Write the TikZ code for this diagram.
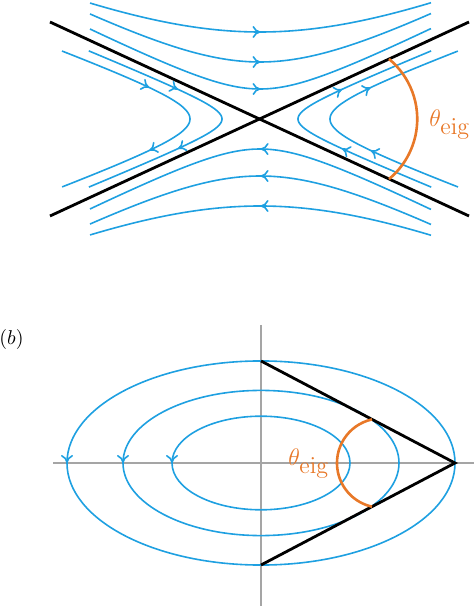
\documentclass[tikz,border=0pt]{standalone}
\usepackage{xcolor}
\usepackage{tikz}
\usetikzlibrary{arrows.meta, decorations.markings}
\definecolor{flowblue}{RGB}{30,160,225}
\definecolor{angorange}{RGB}{232,120,40}
\definecolor{axisgray}{RGB}{165,165,165}

\begin{document}
\begin{tikzpicture}[x=0.5pt, y=0.5pt,
            flow/.style={draw=flowblue, line width=0.8pt},
            eigline/.style={draw=black, line width=1.4pt},
            anglearc/.style={draw=angorange, line width=1.3pt},
            axisline/.style={draw=axisgray, line width=1.2pt},
            lbl/.style={inner sep=0pt, font=\fontsize{13}{15}\selectfont},
            flowarrow/.style={postaction={decorate, decoration={markings,
                mark=at position #1 with {\arrow{Computer Modern Rightarrow[length=4pt, width=6pt, line width=0.8pt]}}}}}]

            \useasboundingbox (0,0) rectangle (474,606);

            % 鞍点
            \begin{scope}[shift={(260,487)}]
                \coordinate (ul) at (-210,97);
                \coordinate (lr) at (209,-97);
                \coordinate (ll) at (-210,-97);
                \coordinate (ur) at (209,97);
                \coordinate (a1) at (129,60);

                % 上下流线
                \foreach \a/\s in {87/0.451, 57/0.519, 30/0.499} {
                    \draw[flow, flowarrow=0.5] plot[domain=-170:171, samples=80, smooth]
                        (\x, {10*sqrt((\a/10)^2+(\s*\x/10)^2)});
                    \draw[flow, flowarrow=0.5] plot[domain=-171:170, samples=80, smooth]
                        ({-(\x)}, {-10*sqrt((\a/10)^2+(\s*\x/10)^2)});
                }

                % 左右流线
                \foreach \vx/\s/\tm in {38/0.408/2.186, 70/0.367/1.70} {
                    \draw[flow, flowarrow=0.32, flowarrow=0.68] plot[variable=\t, domain=-\tm:\tm, samples=61]
                        ({\vx*cosh(\t)}, {\vx*\s*sinh(\t)});
                    \draw[flow, flowarrow=0.32, flowarrow=0.68] plot[variable=\t, domain=-\tm:\tm, samples=61]
                        ({-\vx*cosh(\t)}, {-\vx*\s*sinh(\t)});
                }

                % 特征方向
                \draw[eigline] (ul) -- (lr);
                \draw[eigline] (ll) -- (ur);

                % 角度
                \draw[anglearc] (a1) arc[start angle=50.4, end angle=-50.4, radius=77.9];
                \node[lbl, text=angorange, anchor=base west] (theta1) at (169,-8) {$\theta_{\textstyle\mathrm{eig}}$};
            \end{scope}

            % 中心
            \begin{scope}[shift={(261,143)}]
                \coordinate (xl) at (-208,0);
                \coordinate (xr) at (213,0);
                \coordinate (yt) at (0,138);
                \coordinate (yb) at (0,-143);
                \coordinate (top) at (0,102);
                \coordinate (tip) at (194,0);
                \coordinate (bot) at (0,-102);
                \coordinate (a2) at (111,43.6);

                \draw[axisline] (xl) -- (xr);
                \draw[axisline] (yt) -- (yb);

                % 椭圆轨道
                \foreach \r in {194, 138, 89}
                    \draw[flow, flowarrow=0.5] (0,0) ellipse[x radius=\r, y radius=0.526*\r];

                \draw[eigline] (top) -- (tip) -- (bot);

                % 角度
                \draw[anglearc] (a2) arc[start angle=102.5, end angle=257.5, radius=44.7];
                \node[lbl, text=angorange, anchor=base west] (theta2) at (27,-3) {$\theta_{\textstyle\mathrm{eig}}$};

                \node[lbl, font=\normalsize, anchor=base west] (lblb) at (-262,118) {$(b)$};
            \end{scope}
        \end{tikzpicture}
\end{document}
